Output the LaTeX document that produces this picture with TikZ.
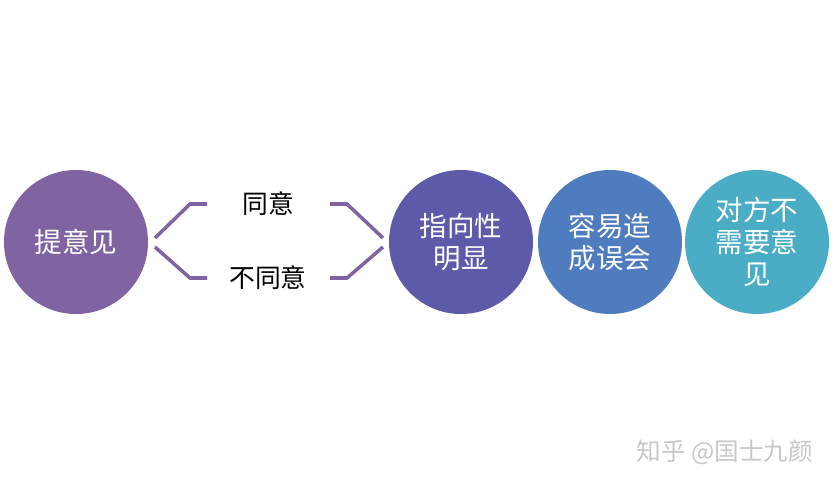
\documentclass[tikz,border=0pt]{standalone}
\usepackage{fontspec}
\setmainfont{Noto Sans CJK SC}
\usetikzlibrary{positioning}
\definecolor{cpurple}{HTML}{8064A2}
\definecolor{cviolet}{HTML}{5E5AAA}
\definecolor{cblue}{HTML}{4F7BBF}
\definecolor{cteal}{HTML}{4BACC6}
\definecolor{cstamp}{HTML}{C8C8C8}
\tikzset{
  every picture/.style={line width=1pt},
  disc/.style={circle, fill=#1, draw=none, minimum size=4.32cm, inner sep=0pt, align=center,
               text=white, font=\fontsize{23.5}{27.5}\selectfont},
  disc/.default=cpurple,
  choice/.style={font=\fontsize{22}{26}\selectfont, text=black},
  brace/.style={draw=cpurple, line width=3pt, line join=miter},
  stamp/.style={font=\fontsize{21}{24}\selectfont, text=cstamp, anchor=west},
}

\begin{document}
\begin{tikzpicture}[x=0.03cm, y=-0.03cm]
  \useasboundingbox (0,0) rectangle (835,485);
  \node[disc] (idea) at (76, 242) {提意见};
  \node[choice] (yes) at (268, 204) {同意};
  \node[choice] (no) at (268, 278) {不同意};
  \node[disc=cviolet] (point) at (461, 242) {指向性\\明显};
  \node[disc=cblue] (mis) at (610, 242) {容易造\\成误会};
  \node[disc=cteal] (need) at (757, 242) {对方不\\需要意\\见};
  % brackets
  \draw[brace] (207, 204) -- (190, 204) -- (155, 238);
  \draw[brace] (155, 247) -- (190, 278) -- (207, 278);
  \draw[brace] (330, 204) -- (347, 204) -- (383, 238);
  \draw[brace] (383, 247) -- (347, 278) -- (330, 278);
  \node[stamp] (zhihu) at (632, 452) {知乎 @国士九颜};
\end{tikzpicture}
\end{document}
